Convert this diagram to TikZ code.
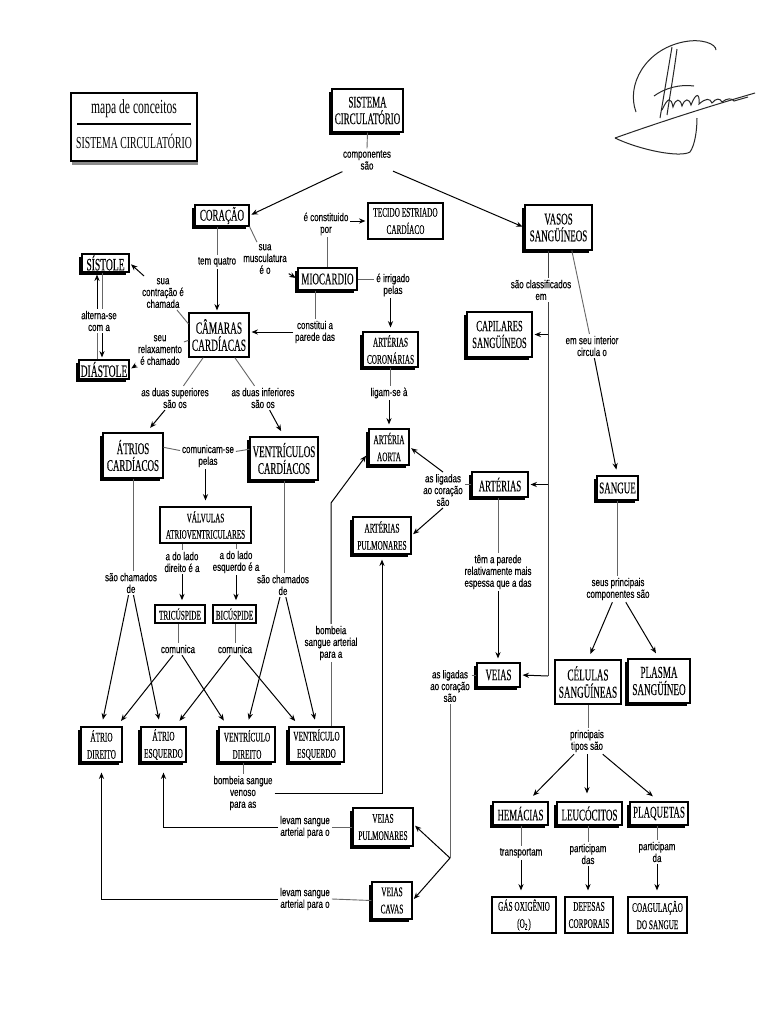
\documentclass[tikz,border=0pt]{standalone}
\usepackage{fontspec}
\newfontfamily\bxf[FakeStretch=0.55,FakeBold=0.15]{Liberation Serif}
\newfontfamily\ttf[FakeStretch=0.58]{Liberation Serif}
\newfontfamily\lbf[FakeStretch=0.7,FakeBold=0.2]{Liberation Sans}
\usetikzlibrary{arrows.meta,shadows,calc}
\begin{document}
\begin{tikzpicture}[x=0.5pt,y=-0.5pt,
  bx/.style={draw,line width=0.55pt,fill=white,inner sep=0pt,align=center,font=\bxf\fontsize{8.2}{8.4}\selectfont},
  sm/.style={font=\bxf\fontsize{6.6}{8.6}\selectfont},
  sh/.style={drop shadow={shadow xshift=-1.6pt,shadow yshift=-1.6pt,fill=black,opacity=1}},
  wh/.style 2 args={minimum width=#1*0.5pt,minimum height=#2*0.5pt},
  lb/.style={inner sep=0.8pt,align=center,font=\lbf\fontsize{5.7}{5.9}\selectfont},
  ln/.style={draw=black!60,line width=0.45pt},
  arr/.style={draw=black,line width=0.5pt,-{Stealth[length=3.2pt,width=2.6pt]},shorten >=1pt},
  sig/.style={draw=black!85,line width=0.5pt},
]
\useasboundingbox (0,0) rectangle (768,1024);
\fill[white] (0,0) rectangle (768,1024);

% title
\node[draw,line width=0.6pt,fill=white,wh={126}{68},drop shadow={shadow xshift=0.5pt,shadow yshift=-2pt,fill=black!45,opacity=1}] (tb) at (134,127) {};
\node[font=\ttf\fontsize{10}{10}\selectfont] (tt1) at (134,109) {mapa de conceitos};
\node[font=\ttf\fontsize{8.4}{9}\selectfont] (tt2) at (134,141) {SISTEMA CIRCULATÓRIO};
\draw[line width=0.6pt] (77,124) -- (191,124);

% boxes
\node[bx,sh,wh={71}{43},font=\bxf\fontsize{8.1}{8.3}\selectfont] (sc) at (367.5,110.5) {SISTEMA\\CIRCULATÓRIO};
\node[bx,sh,wh={54}{21}] (cor) at (222,215.5) {CORAÇÃO};
\node[bx,sm,wh={75}{36}] (tec) at (405.5,221) {TECIDO ESTRIADO\\CARDÍACO};
\node[bx,sh,wh={67}{45}] (vas) at (558.5,227.5) {VASOS\\SANGÜÍNEOS};
\node[bx,sh,wh={59}{22}] (mio) at (327.5,279) {MIOCARDIO};
\node[bx,sh,wh={47}{18},font=\bxf\fontsize{8.7}{8.7}\selectfont] (sis) at (105.5,263) {SÍSTOLE};
\node[bx,sh,wh={50}{19},font=\bxf\fontsize{8.7}{8.7}\selectfont] (dia) at (104,369.5) {DIÁSTOLE};
\node[bx,wh={60}{44},font=\bxf\fontsize{8.5}{8.6}\selectfont] (cam) at (219,335) {CÂMARAS\\CARDÍACAS};
\node[bx,sh,sm,wh={55}{35}] (cor2) at (390.5,349.5) {ARTÉRIAS\\CORONÁRIAS};
\node[bx,sh,wh={65}{45},font=\bxf\fontsize{7.75}{8.4}\selectfont] (cap) at (499.5,334.5) {CAPILARES\\SANGÜÍNEOS};
\node[bx,sh,wh={60}{45}] (atr) at (133,455.5) {ÁTRIOS\\CARDÍACOS};
\node[bx,sh,wh={68}{43}] (ven) at (284,458.5) {VENTRÍCULOS\\CARDÍACOS};
\node[bx,wh={91}{36},font=\bxf\fontsize{6.45}{8.2}\selectfont] (val) at (205.5,525) {VÁLVULAS\\ATRIOVENTRICULARES};
\node[bx,sh,sm,wh={40}{36}] (aor) at (389,447) {ARTÉRIA\\AORTA};
\node[bx,sh,sm,wh={58}{37}] (apu) at (382,535.5) {ARTÉRIAS\\PULMONARES};
\node[bx,sh,wh={56}{25},font=\bxf\fontsize{8}{8}\selectfont] (art) at (500,484.5) {ARTÉRIAS};
\node[bx,sh,wh={41}{24}] (san) at (617.5,488) {SANGUE};
\node[bx,sm,wh={50}{18},line width=0.8pt] (tri) at (180,614) {TRICÚSPIDE};
\node[bx,sm,wh={43}{18},line width=0.8pt] (bic) at (234.5,614) {BICÚSPIDE};
\node[bx,sh,wh={43}{24},font=\bxf\fontsize{8}{8}\selectfont] (vei) at (498.5,675) {VEIAS};
\node[bx,wh={66}{44},font=\bxf\fontsize{8.3}{8.6}\selectfont] (cel) at (588,682) {CÉLULAS\\SANGÜÍNEAS};
\node[bx,sh,wh={62}{44},font=\bxf\fontsize{8.3}{8.6}\selectfont] (pla) at (659,681) {PLASMA\\SANGÜÍNEO};
\node[bx,sh,sm,wh={41}{35}] (ad) at (101.5,744.5) {ÁTRIO\\DIREITO};
\node[bx,sh,sm,wh={45}{35}] (ae) at (163.5,744.5) {ÁTRIO\\ESQUERDO};
\node[bx,sh,sm,wh={56}{35}] (vd) at (247,744.5) {VENTRÍCULO\\DIREITO};
\node[bx,sh,sm,wh={55}{35}] (ve) at (316.5,744.5) {VENTRÍCULO\\ESQUERDO};
\node[bx,sh,sm,wh={60}{38}] (vp) at (383,827) {VEIAS\\PULMONARES};
\node[bx,sh,sm,wh={40}{37}] (vc) at (392,900.5) {VEIAS\\CAVAS};
\node[bx,sh,wh={55}{23},font=\bxf\fontsize{8}{8}\selectfont] (hem) at (520.5,813.5) {HEMÁCIAS};
\node[bx,sh,wh={65}{23}] (leu) at (589.5,813.5) {LEUCÓCITOS};
\node[bx,sh,wh={58}{23}] (plq) at (659,813.5) {PLAQUETAS};
\node[bx,sm,wh={64}{36}] (gas) at (524,915) {GÁS OXIGÊNIO\\(O\textsubscript{2})};
\node[bx,sm,wh={48}{36}] (def) at (589,915) {DEFESAS\\CORPORAIS};
\node[bx,sm,wh={59}{36}] (coa) at (657.5,915) {COAGULAÇÃO\\DO SANGUE};

% labels
\node[lb] (l1) at (367,160) {componentes\\são};
\node[lb] (l2) at (326,224) {é constituido\\por};
\node[lb] (l3) at (265,259) {sua\\musculatura\\é o};
\node[lb] (l4) at (217,262) {tem quatro};
\node[lb] (l5) at (393,285) {é irrigado\\pelas};
\node[lb] (l6) at (315,332) {constitui a\\parede das};
\node[lb] (l7) at (163,293) {sua\\contração é\\chamada};
\node[lb] (l8) at (160,350) {seu\\relaxamento\\é chamado};
\node[lb] (l9) at (99,321) {alterna-se\\com a};
\node[lb] (l10) at (175,398) {as duas superiores\\são os};
\node[lb] (l11) at (263,398) {as duas inferiores\\são os};
\node[lb] (l12) at (389,393) {ligam-se à};
\node[lb] (l13) at (541,290) {são classificados\\em};
\node[lb] (l14) at (592,346) {em seu interior\\circula o};
\node[lb] (l15) at (208,456) {comunicam-se\\pelas};
\node[lb] (l16) at (443,490) {as ligadas\\ao coração\\são};
\node[lb] (l17) at (182,562) {a do lado\\direito é a};
\node[lb] (l18) at (236,562) {a do lado\\esquerdo é a};
\node[lb] (l19) at (131,583) {são chamados\\de};
\node[lb] (l20) at (283,585) {são chamados\\de};
\node[lb] (l21) at (498,572) {têm a parede\\relativamente mais\\espessa que a das};
\node[lb] (l22) at (618,589) {seus principais\\componentes são};
\node[lb] (l23) at (178,649) {comunica};
\node[lb] (l24) at (235,649) {comunica};
\node[lb] (l25) at (331,643) {bombeia\\sangue arterial\\para a};
\node[lb] (l26) at (450,686) {as ligadas\\ao coração\\são};
\node[lb] (l27) at (587,741) {principais\\tipos são};
\node[lb] (l28) at (243,793) {bombeia sangue\\venoso\\para as};
\node[lb] (l29) at (305,827) {levam sangue\\arterial para o};
\node[lb] (l30) at (305,899) {levam sangue\\arterial para o};
\node[lb] (l31) at (521,853) {transportam};
\node[lb] (l32) at (588,854) {participam\\das};
\node[lb] (l33) at (657,852) {participam\\da};

% helper coordinates
\coordinate (c1) at (331,503);
\coordinate (c2) at (450,858);
\coordinate (cx) at (548,676);
\coordinate (su) at (97,300);
\coordinate (sd) at (102,300);

% connectors
\draw[ln] (sc.south) -- (l1.north);
\draw[arr] (l1) -- (cor.east);
\draw[arr] (l1) -- (vas.west);
\draw[ln] (l4 |- cor.south) -- (l4);
\draw[arr] (l4) -- (l4 |- cam.north);
\draw[ln] (cor.south east) -- (l3);
\draw[arr] (l3) -- (mio.west);
\draw[arr] (l2.east |- tec.west) -- (tec.west);
\draw[ln] (l2.south -| mio.north) -- (mio.north);
\draw[ln] (mio.east) -- (l5.west |- mio.east);
\draw[arr,shorten >=2pt] (l5.south -| cor2.north) -- (cor2.north);
\draw[ln] (l6.north |- mio.south) -- (l6.north);
\draw[arr] (l6.west) -- (cam.east |- l6.west);
\draw[ln] (cam.160) -- (l7);
\draw[arr] (l7) -- (sis.east);
\draw[ln] (cam.190) -- (l8);
\draw[arr] (l8) -- (dia.east);
\draw[ln] (su |- dia.north) -- (su |- l9.south);
\draw[arr] (su |- l9.north) -- (su |- sis.south);
\draw[ln] (sd |- sis.south) -- (sd |- l9.north);
\draw[arr] (sd |- l9.south) -- (sd |- dia.north);
\draw[ln] (cam.235) -- (l10);
\draw[arr,shorten >=3pt] (l10) -- (atr.60);
\draw[ln] (cam.305) -- (l11);
\draw[arr,shorten >=3pt] (l11) -- (ven.north);
\draw[ln] (cor2.south) -- (cor2.south |- l12.north);
\draw[arr,shorten >=2pt] (l12.south -| aor.north) -- (aor.north);
\draw[ln] (atr.15) -- (l15);
\draw[ln] (l15) -- (ven.165);
\draw[arr,shorten >=3pt] (l15.south -| val.north) -- (val.north);
\draw[ln] (atr.south) -- (atr.south |- l19.north);
\draw[arr,shorten >=3.5pt] (l19) -- (ad.north);
\draw[arr,shorten >=3.5pt] (l19) -- (ae.100);
\draw[ln] (ven.south) -- (ven.south |- l20.north);
\draw[arr,shorten >=3.5pt] (l20) -- (vd.north);
\draw[arr,shorten >=3.5pt] (l20) -- (ve.north);
\draw[ln] (l17.north |- val.south) -- (l17.north);
\draw[arr,shorten >=2pt] (l17.south) -- (l17.south |- tri.north);
\draw[ln] (l18.north |- val.south) -- (l18.north);
\draw[arr,shorten >=2pt] (l18.south) -- (l18.south |- bic.north);
\draw[ln] (l23.north |- tri.south) -- (l23.north);
\draw[ln] (l24.north |- bic.south) -- (l24.north);
\draw[arr,shorten >=3.5pt] (l23) -- (ad.50);
\draw[arr,shorten >=3.5pt] (l23) -- (vd.137);
\draw[arr,shorten >=3.5pt] (l24) -- (ae.57);
\draw[arr,shorten >=3.5pt] (l24) -- (ve.133);
\draw[ln] (ve.north -| l25) -- (l25.south);
\draw[arr,shorten >=2pt] (l25.north) -- (c1) -- (aor.195);
\draw[ln] (l28.north |- vd.south) -- (l28.north);
\draw[arr,shorten >=2.5pt] (l28.east) -| (apu.south);
\draw[ln] (vp.west) -- (l29.east);
\draw[arr,shorten >=5pt] (l29.west) -| (ae.south);
\draw[ln] (vc.west) -- (l30.east);
\draw[arr,shorten >=5pt] (l30.west) -| (ad.south);
\draw[ln] (l26.east |- vei.west) -- (vei.west);
\draw[ln] (l26.south) -- (c2);
\draw[arr] (c2) -- (vp.5);
\draw[arr] (c2) -- (vc.east);
\draw[ln] (l21.north |- art.south) -- (l21.north);
\draw[arr,shorten >=2pt] (l21.south) -- (l21.south |- vei.north);
\draw[ln] (art.west) -- (l16.east |- art.west);
\draw[arr] (l16.north) -- (aor.east);
\draw[arr] (l16.south) -- (apu.east);
\draw[ln,draw=black!75] (vas.south -| cx) -- (l13.north -| cx);
\draw[ln,draw=black!75] (l13.south -| cx) -- (cx);
\draw[arr] (cx) -- (vei.east);
\draw[arr] (cap.east -| cx) -- (cap.east);
\draw[arr] (art.east -| cx) -- (art.east);
\draw[ln] (vas.300) -- (l14);
\draw[arr,shorten >=3pt] (l14) -- (san.north);
\draw[ln] (san.south) -- (san.south |- l22.north);
\draw[arr,shorten >=3pt] (l22) -- (cel.north);
\draw[arr,shorten >=3pt] (l22) -- (pla.north);
\draw[ln] (cel.south) -- (cel.south |- l27.north);
\draw[arr,shorten >=4pt] (l27) -- (hem.60);
\draw[arr,shorten >=4pt] (l27.south) -- (l27.south |- leu.north);
\draw[arr,shorten >=4pt] (l27) -- (plq.north);
\draw[ln] (l31.north |- hem.south) -- (l31.north);
\draw[arr,shorten >=3pt] (l31.south) -- (l31.south |- gas.north);
\draw[ln] (l32.north |- leu.south) -- (l32.north);
\draw[arr,shorten >=3pt] (l32.south) -- (l32.south |- def.north);
\draw[ln] (l33.north |- plq.south) -- (l33.north);
\draw[arr,shorten >=3pt] (l33.south) -- (l33.south |- coa.north);

% signature
\draw[sig] (636,112) .. controls (626,85) and (645,50) .. (683,42) .. controls (702,38) and (716,44) .. (716,50);
\draw[sig] (672,47) .. controls (668,70) and (664,95) .. (660,118);
\draw[sig] (677,49) .. controls (674,72) and (670,95) .. (667,115);
\draw[sig] (654,96) .. controls (665,88) and (680,84) .. (694,86);
\draw[sig] (662,110) .. controls (668,97) and (671,97) .. (673,107) .. controls (676,98) and (680,98) .. (682,106) .. controls (685,98) and (689,98) .. (691,105) .. controls (696,92) and (700,93) .. (699,104) .. controls (706,98) and (710,98) .. (712,103) .. controls (716,98) and (720,98) .. (722,102) .. controls (727,98) and (732,98) .. (734,101) -- (748,97);
\draw[sig] (615,138) .. controls (660,122) and (710,106) .. (755,93);
\draw[sig] (615,138) .. controls (640,150) and (680,158) .. (690,152) .. controls (695,145) and (697,130) .. (697,118);
\end{tikzpicture}
\end{document}
